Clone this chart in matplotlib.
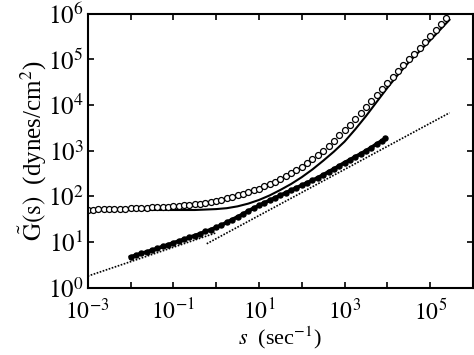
import numpy as np
import matplotlib
matplotlib.use('Agg')
import matplotlib.pyplot as plt
from matplotlib.ticker import FixedLocator, FuncFormatter

plt.rcParams['font.family'] = ['Liberation Serif', 'DejaVu Serif']
plt.rcParams['mathtext.fontset'] = 'stix'

# log10(s), log10(G)
upper_logs = [-3.000, -2.875, -2.750, -2.625, -2.500, -2.375, -2.250, -2.125,
              -2.000, -1.875, -1.750, -1.625, -1.500, -1.375, -1.250, -1.125,
              -1.000, -0.875, -0.750, -0.625, -0.500, -0.375, -0.250, -0.125,
              0.000, 0.125, 0.250, 0.375, 0.500, 0.625, 0.750, 0.875,
              1.000, 1.125, 1.250, 1.375, 1.500, 1.625, 1.750, 1.875,
              2.000, 2.125, 2.250, 2.375, 2.500, 2.625, 2.750, 2.875,
              3.000, 3.125, 3.250, 3.375, 3.500, 3.625, 3.750, 3.875,
              4.000, 4.125, 4.250, 4.375, 4.500, 4.625, 4.750, 4.875,
              5.000, 5.125, 5.250, 5.375]
upper_logG = [1.71, 1.71, 1.72, 1.72, 1.72, 1.73, 1.73, 1.73,
              1.74, 1.74, 1.75, 1.75, 1.76, 1.76, 1.77, 1.77,
              1.78, 1.79, 1.80, 1.81, 1.83, 1.84, 1.86, 1.88,
              1.90, 1.93, 1.96, 1.99, 2.02, 2.05, 2.09, 2.13,
              2.17, 2.22, 2.27, 2.32, 2.37, 2.44, 2.51, 2.58,
              2.65, 2.73, 2.82, 2.91, 3.00, 3.11, 3.22, 3.34,
              3.45, 3.57, 3.70, 3.83, 3.96, 4.09, 4.22, 4.35,
              4.48, 4.61, 4.74, 4.87, 5.00, 5.13, 5.26, 5.39,
              5.52, 5.65, 5.78, 5.90]

fit_logs = [-3.0, -2.0, -1.0, -0.5, 0.0, 0.25, 0.5, 0.75, 1.0, 1.25, 1.5,
            1.75, 2.0, 2.25, 2.5, 2.75, 3.0, 3.25, 3.5, 3.75, 4.0, 4.25,
            4.5, 5.0, 5.45]
fit_logG = [1.70, 1.70, 1.70, 1.70, 1.72, 1.74, 1.78, 1.84, 1.92, 2.02, 2.14,
            2.27, 2.42, 2.59, 2.78, 2.98, 3.20, 3.47, 3.76, 4.07, 4.38, 4.67,
            4.94, 5.42, 5.87]

lower_logs = [-2.000, -1.875, -1.750, -1.625, -1.500, -1.375, -1.250, -1.125,
              -1.000, -0.875, -0.750, -0.625, -0.500, -0.375, -0.250, -0.125,
              0.000, 0.125, 0.250, 0.375, 0.500, 0.625, 0.750, 0.875,
              1.000, 1.125, 1.250, 1.375, 1.500, 1.625, 1.750, 1.875,
              2.000, 2.125, 2.250, 2.375, 2.500, 2.625, 2.750, 2.875,
              3.000, 3.125, 3.250, 3.375, 3.500, 3.625, 3.750, 3.875, 3.950]
lower_logG = [0.67, 0.71, 0.75, 0.78, 0.82, 0.86, 0.90, 0.94,
              0.98, 1.02, 1.06, 1.10, 1.14, 1.18, 1.23, 1.27,
              1.32, 1.37, 1.43, 1.49, 1.55, 1.61, 1.68, 1.74,
              1.80, 1.86, 1.91, 1.97, 2.02, 2.08, 2.13, 2.19,
              2.24, 2.30, 2.35, 2.41, 2.47, 2.54, 2.60, 2.67,
              2.74, 2.80, 2.87, 2.93, 3.00, 3.07, 3.15, 3.22, 3.27]

# dotted asymptotes
low_asym_logs = [-3.0, 0.0]
low_asym_logG = [0.25, 1.20]
high_asym_logs = [-0.22, 5.45]
high_asym_logG = [0.96, 3.83]

xtick_exp = [-3, -2, -1, 0, 1, 2, 3, 4, 5]
ytick_exp = [0, 1, 2, 3, 4, 5, 6]

fig = plt.figure(figsize=(4.74, 3.55), dpi=100)
ax = fig.add_axes([0.185, 0.19, 0.813, 0.771])

dots = (0, (1.0, 0.9))
ax.plot(10.0 ** np.array(low_asym_logs), 10.0 ** np.array(low_asym_logG),
        color='black', lw=1.2, ls=dots)
ax.plot(10.0 ** np.array(high_asym_logs), 10.0 ** np.array(high_asym_logG),
        color='black', lw=1.2, ls=dots)

ax.plot(10.0 ** np.array(lower_logs), 10.0 ** np.array(lower_logG),
        color='black', lw=2.6, marker='o', ms=3.6, mfc='black', mec='black')

ax.plot(10.0 ** np.array(fit_logs), 10.0 ** np.array(fit_logG),
        color='black', lw=1.5)
ax.plot(10.0 ** np.array(upper_logs), 10.0 ** np.array(upper_logG),
        ls='none', marker='o', ms=4.3, mfc='white', mec='black', mew=0.9)

ax.set_xscale('log')
ax.set_yscale('log')
ax.set_xlim(1e-3, 1e6)
ax.set_ylim(1e0, 1e6)

ax.xaxis.set_major_locator(FixedLocator([10.0 ** e for e in xtick_exp]))
ax.yaxis.set_major_locator(FixedLocator([10.0 ** e for e in ytick_exp]))
ax.xaxis.set_minor_locator(FixedLocator([]))
ax.yaxis.set_minor_locator(FixedLocator([]))


def xfmt(v, pos):
    e = int(round(np.log10(v)))
    if e % 2 == 0:
        return ''
    return r'$10^{%d}$' % e


def yfmt(v, pos):
    return r'$10^{%d}$' % int(round(np.log10(v)))


ax.xaxis.set_major_formatter(FuncFormatter(xfmt))
ax.yaxis.set_major_formatter(FuncFormatter(yfmt))

ax.tick_params(which='both', direction='in', length=4.5, width=1.2,
               top=True, right=True)
ax.tick_params(axis='x', pad=8, labelsize=17)
ax.tick_params(axis='y', pad=3, labelsize=18)
for sp in ax.spines.values():
    sp.set_linewidth(1.5)

ax.set_xlabel(r'$s$  (sec$^{-1}$)', fontsize=16, labelpad=0)
ax.set_ylabel(r'$\tilde{\mathrm{G}}(\mathrm{s})$  (dynes/cm$^{2}$)',
              fontsize=18, labelpad=0)

fig.savefig('out.png', dpi=100)
